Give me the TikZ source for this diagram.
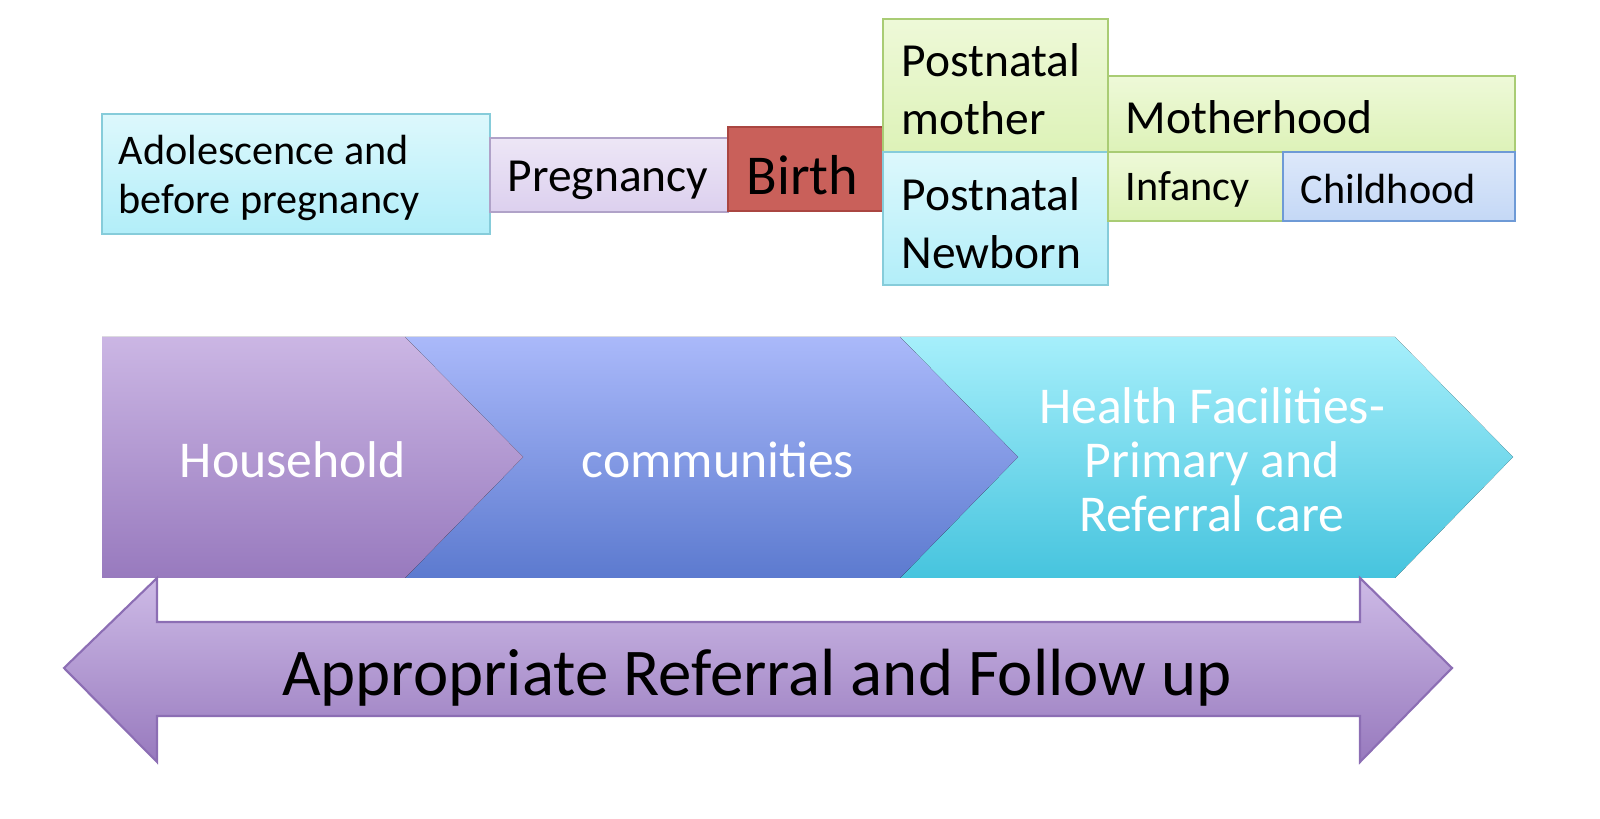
\documentclass[tikz,border=0pt]{standalone}
\usepackage{fontspec}
\setmainfont{Carlito}
\begin{document}
\begin{tikzpicture}[x=0.01cm,y=-0.01cm]
\useasboundingbox (0,0) rectangle (1600,819);
\tikzset{
 bx/.style={draw=#1,line width=0.6pt},
 lbl/.style={anchor=west,align=left,font=\fontsize{12}{14.2}\selectfont,inner sep=0},
 lbb/.style={anchor=west,align=left,font=\fontsize{13.5}{16.5}\selectfont,inner sep=0},
 ctr/.style={align=center,font=\fontsize{14.7}{15.4}\selectfont,text=white,inner sep=0}
}
\definecolor{cyT}{HTML}{DDF8FC}\definecolor{cyB}{HTML}{B2EEF9}\definecolor{cyD}{HTML}{86CCDA}
\definecolor{lvT}{HTML}{EDE6F6}\definecolor{lvB}{HTML}{DCD0EE}\definecolor{lvD}{HTML}{B0A2C8}
\definecolor{grT}{HTML}{EEF9D8}\definecolor{grB}{HTML}{DDF2B8}\definecolor{grD}{HTML}{A9CC74}
\definecolor{blT}{HTML}{DDE8FA}\definecolor{blB}{HTML}{C4D8F6}\definecolor{blD}{HTML}{6E9AD6}
\definecolor{rdF}{HTML}{C9605A}\definecolor{rdD}{HTML}{AA4641}
\definecolor{hfT}{HTML}{A6EFFB}\definecolor{hfB}{HTML}{46C4DE}
\definecolor{cmT}{HTML}{AAB9FA}\definecolor{cmB}{HTML}{5C7ACF}
\definecolor{hhT}{HTML}{CBB6E4}\definecolor{hhB}{HTML}{987ABE}
\definecolor{arT}{HTML}{CDBAE6}\definecolor{arD}{HTML}{8C6EB4}
% top boxes
\fill[top color=cyT,bottom color=cyB] (102,114) rectangle (490,234); \draw[bx=cyD] (102,114) rectangle (490,234);
\node[lbl] (ado) at (118,178) {Adolescence and\\before pregnancy};
\fill[top color=lvT,bottom color=lvB] (490,138) rectangle (728,212); \draw[bx=lvD] (490,138) rectangle (728,212);
\node[lbb] (preg) at (507,180) {Pregnancy};
\fill[rdF] (728,127) rectangle (883,211); \draw[bx=rdD] (728,127) rectangle (883,211);
\node[lbl,font=\fontsize{16}{18}\selectfont] (birth) at (746,175) {Birth};
\fill[top color=grT,bottom color=grB] (883,19) rectangle (1108,152); \draw[bx=grD] (883,19) rectangle (1108,152);
\node[lbb] (pm) at (901,89) {Postnatal\\mother};
\fill[top color=grT,bottom color=grB] (1108,76) rectangle (1515,152); \draw[bx=grD] (1108,76) rectangle (1515,152);
\node[lbb] (mh) at (1125,117) {Motherhood};
\fill[top color=cyT,bottom color=cyB] (883,152) rectangle (1108,285); \draw[bx=cyD] (883,152) rectangle (1108,285);
\node[lbb] (pn) at (901,223) {Postnatal\\Newborn};
\fill[top color=grT,bottom color=grB] (1108,152) rectangle (1283,221); \draw[bx=grD] (1108,152) rectangle (1283,221);
\node[lbl] (inf) at (1125,189) {Infancy};
\fill[top color=blT,bottom color=blB] (1283,152) rectangle (1515,221); \draw[bx=blD] (1283,152) rectangle (1515,221);
\node[lbl] (ch) at (1300,189) {Childhood};
% chevrons
\fill[top color=hfT,bottom color=hfB]
 (900,337) -- (1395,337) -- (1513,457) -- (1395,578) -- (900,578) -- (1018,457) -- cycle;
\fill[top color=cmT,bottom color=cmB]
 (405,337) -- (900,337) -- (1018,457) -- (900,578) -- (405,578) -- (523,457) -- cycle;
\fill[top color=hhT,bottom color=hhB]
 (102,337) -- (405,337) -- (523,457) -- (405,578) -- (102,578) -- cycle;
\node[ctr] (hh) at (293,460) {Household};
\node[ctr] (com) at (718,460) {communities};
\node[ctr] (hf) at (1212,460) {Health Facilities-\\Primary and\\Referral care};
% double arrow
\fill[top color=arT,bottom color=hhB]
 (64,668) -- (157,578) -- (157,622) -- (1360,622) -- (1360,578) -- (1452,668) -- (1360,762) -- (1360,716) -- (157,716) -- (157,762) -- cycle;
\draw[line width=0.6pt,draw=arD]
 (64,668) -- (157,578) -- (157,622) -- (1360,622) -- (1360,578) -- (1452,668) -- (1360,762) -- (1360,716) -- (157,716) -- (157,762) -- cycle;
\node[font=\fontsize{19}{21}\selectfont,inner sep=0] (ref) at (757,678) {Appropriate Referral and Follow up};
\end{tikzpicture}
\end{document}
